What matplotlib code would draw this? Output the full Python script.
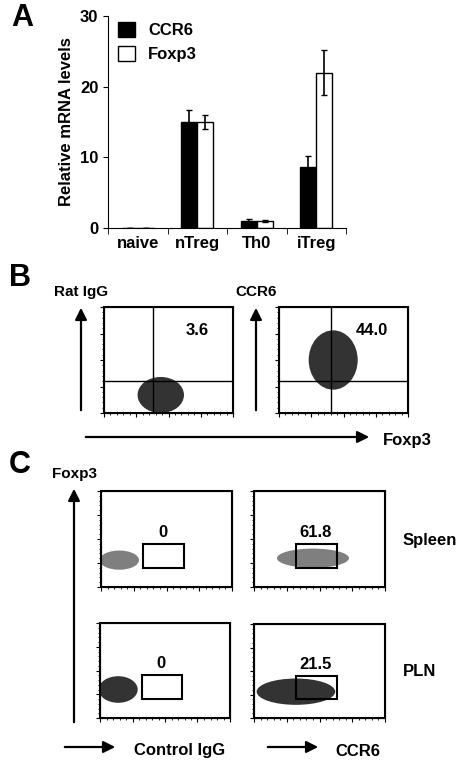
import numpy as np
import matplotlib.pyplot as plt
from matplotlib.patches import Ellipse, Rectangle, FancyArrowPatch

plt.rcParams['font.family'] = ['Liberation Sans', 'DejaVu Sans']
plt.rcParams['font.weight'] = 'bold'

# panel A data
groups = ["naive", "nTreg", "Th0", "iTreg"]
ccr6 = [0.05, 15.0, 1.0, 8.7]
ccr6_err = [0.0, 1.7, 0.3, 1.5]
foxp3 = [0.05, 15.0, 1.0, 22.0]
foxp3_err = [0.0, 1.0, 0.2, 3.2]

# panel B: quadrant percentages and cloud (cx, cy, w, h) in axes fractions
b_labels = ["Rat IgG", "CCR6"]
b_pct = ["3.6", "44.0"]
b_vline = [0.38, 0.40]
b_clouds = [(0.44, 0.17, 0.36, 0.34), (0.42, 0.5, 0.38, 0.56)]

# panel C: gate percentages and clouds
c_pct = ["0", "61.8", "0", "21.5"]
c_clouds = [(0.14, 0.28, 0.3, 0.2), (0.45, 0.3, 0.55, 0.2),
            (0.14, 0.3, 0.3, 0.28), (0.32, 0.28, 0.6, 0.28)]

W, H = 474, 769
fig = plt.figure(figsize=(W / 100, H / 100), dpi=100)


def px_axes(x0, y0, x1, y1):
    return fig.add_axes([x0 / W, 1 - y1 / H, (x1 - x0) / W, (y1 - y0) / H])


def ftext(x, y, s, **kw):
    fig.text(x / W, 1 - y / H, s, ha=kw.pop('ha', 'center'), va=kw.pop('va', 'center'),
             fontweight='bold', **kw)


def farrow(x0, y0, x1, y1):
    fig.patches.append(FancyArrowPatch(
        (x0 / W, 1 - y0 / H), (x1 / W, 1 - y1 / H), transform=fig.transFigure,
        arrowstyle='-|>,head_length=7,head_width=3.5', color='black', lw=1.6))


def flow_ticks(a):
    a.set_xticks(np.linspace(0, 1, 5), minor=False)
    a.set_yticks(np.linspace(0, 1, 5), minor=False)
    a.set_xticks(np.linspace(0, 1, 21), minor=True)
    a.set_yticks(np.linspace(0, 1, 21), minor=True)
    a.tick_params(which='both', labelbottom=False, labelleft=False, direction='out')
    a.tick_params(which='major', length=3)
    a.tick_params(which='minor', length=1.5)
    a.add_patch(Rectangle((0, 0), 1, 1, transform=a.transAxes, fill=False,
                          ec='black', lw=1.5, clip_on=False, zorder=5))


# ---- A
ax = px_axes(108, 16, 346, 228)
x = np.arange(len(groups))
bw = 0.27
ax.bar(x - bw / 2, ccr6, bw, yerr=ccr6_err, color='black', edgecolor='black',
       error_kw=dict(capsize=2, lw=1.2), label='CCR6')
ax.bar(x + bw / 2, foxp3, bw, yerr=foxp3_err, color='white', edgecolor='black',
       error_kw=dict(capsize=2, lw=1.2), label='Foxp3')
ax.set_ylim(0, 30)
ax.set_xlim(-0.5, 3.5)
ax.set_yticks([0, 10, 20, 30])
ax.set_xticks(x)
ax.set_xticklabels(groups, fontsize=12, fontweight='bold')
ax.tick_params(axis='y', labelsize=12)
ax.set_xticks([-0.5, 0.5, 1.5, 2.5, 3.5], minor=True)
ax.tick_params(axis='x', which='major', length=0, pad=6)
ax.tick_params(axis='x', which='minor', length=4)
ax.spines[['top', 'right']].set_visible(False)
ax.set_ylabel("Relative mRNA levels", fontsize=12, fontweight='bold')
ax.legend(loc='upper left', frameon=False, fontsize=12, handlelength=1,
          handleheight=1, borderaxespad=0.2, bbox_to_anchor=(0.0, 1.02))
ftext(22, 18, "A", fontsize=22)

# ---- B
for i, x0 in enumerate([104, 279]):
    a = px_axes(x0, 307, x0 + 129, 413)
    cx, cy, w, h = b_clouds[i]
    a.add_patch(Ellipse((cx, cy), w, h, color='black', alpha=0.8, lw=0))
    a.axvline(b_vline[i], color='black', lw=1)
    a.axhline(0.30, color='black', lw=1)
    a.text(0.72, 0.78, b_pct[i], transform=a.transAxes, ha='center', va='center',
           fontsize=12, fontweight='bold')
    a.set_xlim(0, 1)
    a.set_ylim(0, 1)
    flow_ticks(a)
    farrow(x0 - 23, 413, x0 - 23, 305)
    ftext(x0 - 23, 292, b_labels[i], fontsize=11)
farrow(83, 437, 372, 437)
ftext(407, 441, "Foxp3", fontsize=12)
ftext(20, 278, "B", fontsize=22)

# ---- C
boxes = [(101, 491, 232, 587), (254, 491, 385, 587),
         (100, 623, 230, 718), (254, 624, 385, 718)]
for i, (x0, y0, x1, y1) in enumerate(boxes):
    a = px_axes(x0, y0, x1, y1)
    cx, cy, w, h = c_clouds[i]
    a.add_patch(Ellipse((cx, cy), w, h, color='black', alpha=0.8 if i >= 2 else 0.5, lw=0))
    a.add_patch(Rectangle((0.32, 0.2), 0.31, 0.25, fill=False, ec='black', lw=1.5))
    a.text(0.47, 0.57, c_pct[i], transform=a.transAxes, ha='center', va='center',
           fontsize=12, fontweight='bold')
    a.set_xlim(0, 1)
    a.set_ylim(0, 1)
    flow_ticks(a)
farrow(74, 725, 74, 486)
farrow(62, 747, 118, 747)
farrow(265, 747, 321, 747)
ftext(180, 751, "Control IgG", fontsize=12)
ftext(358, 751, "CCR6", fontsize=12)
ftext(430, 541, "Spleen", fontsize=12)
ftext(420, 671, "PLN", fontsize=12)
ftext(52, 474, "Foxp3", fontsize=11, ha='left')
ftext(20, 465, "C", fontsize=22)

fig.savefig("out.png", dpi=100)
